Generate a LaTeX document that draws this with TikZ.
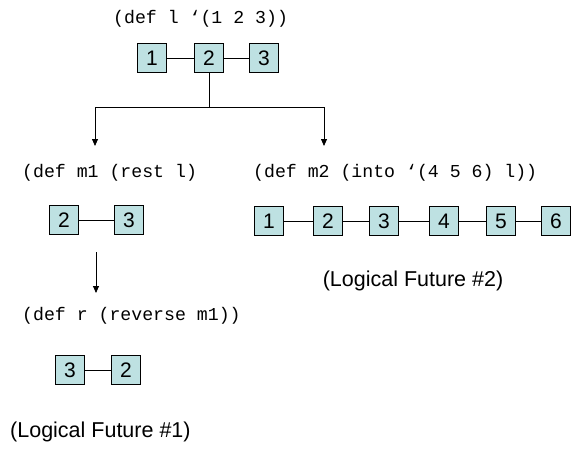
\documentclass[tikz,border=0pt]{standalone}
\usepackage{fontspec}
\setmainfont{Liberation Sans}
\newfontfamily\codefont{Liberation Mono}
\usetikzlibrary{arrows.meta}
\definecolor{boxfill}{RGB}{190,225,226}
\begin{document}
\begin{tikzpicture}[x=1pt,y=-1pt,
  cell/.style={draw=black,line width=0.8pt,fill=boxfill,minimum width=29pt,minimum height=29pt,inner sep=0pt,font=\fontsize{21}{24}\selectfont},
  code/.style={inner sep=0pt,anchor=west,font=\codefont\fontsize{18.2}{20}\selectfont},
  lab/.style={inner sep=0pt,font=\fontsize{21.5}{24}\selectfont},
  link/.style={line width=0.8pt},
  arr/.style={line width=0.8pt,-{Triangle[length=7pt,width=6pt]}}]
\useasboundingbox (0,0) rectangle (585,453);
% top
\node[code] (tl) at (113,19) {(def l ‘(1 2 3))};
\node[cell] (a1) at (152,58) {1};
\node[cell] (a2) at (209,58) {2};
\node[cell] (a3) at (264,58) {3};
\draw[link] (a1) -- (a2);
\draw[link] (a2) -- (a3);
\coordinate (j) at (209,107);
\coordinate (jl) at (95,107);
\coordinate (jr) at (324,107);
\coordinate (el) at (95,146);
\coordinate (er) at (324,146);
\draw[link] (a2.south) -- (j);
\draw[link] (jl) -- (jr);
\draw[arr] (jl) -- (el);
\draw[arr] (jr) -- (er);
% m1
\node[code] (m1l) at (22,173) {(def m1 (rest l)};
\node[cell] (b1) at (64,220) {2};
\node[cell] (b2) at (129,220) {3};
\draw[link] (b1) -- (b2);
\coordinate (s1) at (96,252);
\coordinate (e1) at (96,293);
\draw[arr] (s1) -- (e1);
% r
\node[code] (rl) at (22,316) {(def r (reverse m1))};
\node[cell] (c1) at (70,370) {3};
\node[cell] (c2) at (126,370) {2};
\draw[link] (c1) -- (c2);
\node[lab,anchor=west] (f1) at (10,432) {(Logical Future \#1)};
% m2
\node[code] (m2l) at (253,173) {(def m2 (into ‘(4 5 6) l))};
\node[cell] (d1) at (269,221) {1};
\node[cell] (d2) at (328,221) {2};
\node[cell] (d3) at (384,221) {3};
\node[cell] (d4) at (444,221) {4};
\node[cell] (d5) at (501,221) {5};
\node[cell] (d6) at (556,221) {6};
\draw[link] (d1) -- (d2);
\draw[link] (d2) -- (d3);
\draw[link] (d3) -- (d4);
\draw[link] (d4) -- (d5);
\draw[link] (d5) -- (d6);
\node[lab] (f2) at (413,281) {(Logical Future \#2)};
\end{tikzpicture}
\end{document}
